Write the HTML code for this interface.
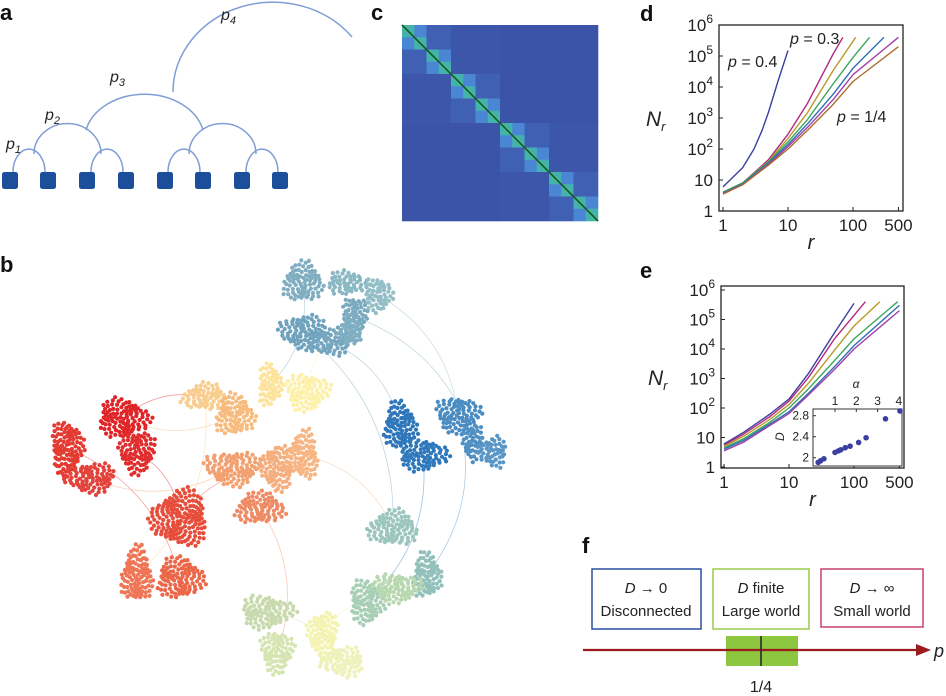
<!DOCTYPE html>
<html><head><meta charset="utf-8">
<style>
html,body{margin:0;padding:0;background:#fff;}
svg{display:block;font-family:"Liberation Sans",Arial,sans-serif;}
.lbl{font-weight:bold;font-size:22px;fill:#111;}
.tk{font-size:17px;fill:#222;}
.it{font-style:italic;}
</style></head>
<body>
<svg id="fig" width="946" height="696" viewBox="0 0 946 696">
<text class="lbl" x="0" y="20">a</text>
<text class="lbl" x="371" y="20">c</text>
<text class="lbl" x="640" y="21">d</text>
<text class="lbl" x="0" y="272">b</text>
<text class="lbl" x="640" y="278">e</text>
<text class="lbl" x="582" y="553">f</text>

<g id="panelA" fill="none" stroke="#7f9ed6" stroke-width="1.5">
  <path d="M13,172 A14,20 0 0 1 45,172"/>
  <path d="M91,172 A14,20 0 0 1 123,172"/>
  <path d="M168,172 A14,20 0 0 1 200,172"/>
  <path d="M246,172 A14,20 0 0 1 278,172"/>
  <path d="M34,154 A33,30 0 0 1 101,154"/>
  <path d="M189,154 A33,30 0 0 1 256,154"/>
  <path d="M86,130 A60,46 0 0 1 203,130"/>
  <path d="M173,92 A100,90 0 0 1 352,37"/>
</g>
<g id="nodesA"></g>
<g font-size="16" fill="#222" class="it">
<text x="6" y="149" class="it">p<tspan font-size="11" dy="4">1</tspan></text>
<text x="45" y="120" class="it">p<tspan font-size="11" dy="4">2</tspan></text>
<text x="110" y="82" class="it">p<tspan font-size="11" dy="4">3</tspan></text>
<text x="221" y="20" class="it">p<tspan font-size="11" dy="4">4</tspan></text>
</g>

<g id="heat"></g>
<g id="net"></g>
<g id="plotD"></g>
<g id="plotE"></g>

<g>
  <rect x="592" y="569" width="109" height="60" fill="none" stroke="#2b4fa0" stroke-width="1.5"/>
  <rect x="713" y="569" width="96" height="60" fill="none" stroke="#9acb4a" stroke-width="1.5"/>
  <rect x="821" y="569" width="102" height="58" fill="none" stroke="#c8406a" stroke-width="1.5"/>
  <g font-size="15" fill="#222" text-anchor="middle">
    <text x="646" y="593"><tspan class="it">D</tspan> → 0</text>
    <text x="646" y="616">Disconnected</text>
    <text x="761" y="593"><tspan class="it">D</tspan> finite</text>
    <text x="761" y="616">Large world</text>
    <text x="872" y="593"><tspan class="it">D</tspan> → ∞</text>
    <text x="872" y="616">Small world</text>
  </g>
  <rect x="726" y="636" width="72" height="30" fill="#8dc63f"/>
  <line x1="583" y1="650" x2="918" y2="650" stroke="#9b1b1e" stroke-width="2.2"/>
  <polygon points="916,644 931,650 916,656" fill="#9b1b1e"/>
  <line x1="761" y1="636" x2="761" y2="666" stroke="#222" stroke-width="1.5"/>
  <text x="934" y="657" font-size="18" class="it" fill="#222">p</text>
  <text x="761" y="692" font-size="16" text-anchor="middle" fill="#222">1/4</text>
</g>
</svg>

<script>
var NS="http://www.w3.org/2000/svg";
function mk(tag,attrs,parent){var e=document.createElementNS(NS,tag);for(var k in attrs)e.setAttribute(k,attrs[k]);parent.appendChild(e);return e;}

var leafX=[2,40,79,118,157,195,234,272];
var gA=document.getElementById('nodesA');
leafX.forEach(function(x,i){
  var r=mk('rect',{x:x,y:172,width:16,height:17,rx:2.5,fill:'#1b4f9c'},gA);
  
  
});

var heatLevels=[0,1,2,3,4];
var heatColors=['#3fbf8a','#4a86d4','#4060b4','#3c56aa','#3b54a8'];
var gH=document.getElementById('heat');
var N=16,hx=402,hy=25,hs=196/16;
for(var i=0;i<N;i++)for(var j=0;j<N;j++){
  var d=i^j,l=0;while(d){l++;d>>=1;}
  var c=mk('rect',{x:hx+j*hs,y:hy+i*hs,width:hs+0.3,height:hs+0.3,fill:heatColors[heatLevels[l]]},gH);
  
  
}
for(var i=0;i<N;i++){
  mk('polygon',{points:(hx+i*hs)+','+(hy+i*hs+3)+' '+(hx+i*hs+hs-3)+','+(hy+i*hs+hs)+' '+(hx+i*hs)+','+(hy+i*hs+hs),fill:'#4aa8c8',opacity:0.6},gH);
  mk('polygon',{points:(hx+i*hs+3)+','+(hy+i*hs)+' '+(hx+i*hs+hs)+','+(hy+i*hs)+' '+(hx+i*hs+hs)+','+(hy+i*hs+hs-3),fill:'#4aa8c8',opacity:0.6},gH);
}
mk('line',{x1:hx,y1:hy,x2:hx+196,y2:hy+196,stroke:'#1e4f3a','stroke-width':1.6},gH);

var clusterX=[303,347,378,355,303,330,350, 400,423,458,473,493, 205,235,270,307, 233,277,303,260, 123,67,137,90,180,137,180, 267,277,323,343, 393,427,367,397];
var clusterY=[282,283,295,317,332,342,330, 425,455,415,442,452, 397,415,385,392, 468,468,455,508, 418,448,452,478,518,575,578, 612,652,635,662, 528,575,602,588];
var clusterR=[20,16,16,17,20,17,14, 20,20,20,15,15, 18,20,17,20, 22,20,20,20, 22,22,20,20,28,22,22, 21,19,20,18, 21,19,20,19];
var clusterC=['#80aec0','#8ab8c3','#93bec6','#7aaabf','#6ea2bd','#76a6bf','#80aec2',
 '#2f77ba','#2f78bb','#4a8cc2','#4f90c3','#5a96c5',
 '#f9cd8e','#f7bb7e','#fde39c','#fdf0a8',
 '#f3a070','#f5ae7e','#f6b582','#ef8b64',
 '#df2527','#e33a31','#e02d2d','#e3423a','#e74d3b','#ee7656','#eb6748',
 '#c8daad','#d6e4b2','#f4f3b2','#edf2ba',
 '#9cc6bd','#92c0bb','#a8cfb6','#b8d8b0'];
var gN=document.getElementById('net');
var edges=[[0,14],[4,31],[2,9],[3,10],[5,7],[20,12],[21,26],[22,24],[24,17],[19,28],[16,23],[8,33],[9,32],[12,25],[18,31],[15,3],[13,20],[27,30],[29,33],[32,34]];
edges.forEach(function(e){
  var a=e[0],b=e[1];
  var mx=(clusterX[a]+clusterX[b])/2+(clusterY[b]-clusterY[a])*0.25, my=(clusterY[a]+clusterY[b])/2-(clusterX[b]-clusterX[a])*0.25;
  var p=mk('path',{d:'M'+clusterX[a]+','+clusterY[a]+' Q'+mx+','+my+' '+clusterX[b]+','+clusterY[b],fill:'none',stroke:clusterC[a],'stroke-width':0.8,opacity:0.45},gN);
  
  
});
var GA=2.39996;
for(var k=0;k<clusterX.length;k++){
  var g=mk('g',{fill:clusterC[k]},gN);
  
  
  var cc=2.2,n=Math.round(Math.pow(clusterR[k]/cc,2));
  var sx=1+0.3*Math.sin(k*1.7),sy=1-0.25*Math.sin(k*1.7);
  for(var m=0;m<n;m++){
    var rr=cc*Math.sqrt(m+0.5),th=m*GA+k;
    var wob=1+0.18*Math.sin(th*3+k);
    mk('circle',{cx:(clusterX[k]+rr*wob*Math.cos(th)*sx).toFixed(1),cy:(clusterY[k]+rr*wob*Math.sin(th)*sy).toFixed(1),r:2.1},g);
  }
}

var yTickExp=[0,1,2,3,4,5,6];
var xTicks=[1,10,100,500];
function logPlot(gid,box,xf,yf,series,colors){
  var g=document.getElementById(gid);
  for(var s=0;s<series.length;s++){
    var pts=series[s].r.map(function(r,i){return xf(r).toFixed(1)+','+yf(series[s].n[i]).toFixed(1);});
    var pl=mk('polyline',{points:pts.join(' '),fill:'none',stroke:colors[s],'stroke-width':1.4,'stroke-linejoin':'round'},g);
    
    
  }
  var fr=mk('rect',{x:box[0],y:box[1],width:box[2]-box[0],height:box[3]-box[1],fill:'none',stroke:'#222','stroke-width':1.3},g);
  
  
  yTickExp.forEach(function(e){
    var y=yf(Math.pow(10,e));
    mk('line',{x1:box[0],x2:box[0]+4,y1:y,y2:y,stroke:'#222'},g);
    var t=mk('text',{x:box[0]-6,y:y+6,'text-anchor':'end','class':'tk'},g);
    
    
    if(e==0)t.textContent='1';else if(e==1)t.textContent='10';
    else{t.textContent='10';var ts=mk('tspan',{dy:-8,'font-size':12},t);ts.textContent=e;}
  });
  xTicks.forEach(function(v){
    var x=xf(v);
    mk('line',{x1:x,x2:x,y1:box[3],y2:box[3]-4,stroke:'#222'},g);
    var t=mk('text',{x:x,y:box[3]+20,'text-anchor':'middle','class':'tk'},g);
    
    
    t.textContent=v;
  });
  var yl=mk('text',{x:box[0]-73,y:(box[1]+box[3])/2+8,'font-size':21,'class':'it',fill:'#222'},g);
  
  
  yl.textContent='N';var sb=mk('tspan',{dy:5,'font-size':13},yl);sb.textContent='r';
  var xl=mk('text',{x:(box[0]+box[2])/2,y:box[3]+38,'font-size':20,'class':'it','text-anchor':'middle',fill:'#222'},g);
  
  
  xl.textContent='r';
  return g;
}

var dR04=[1,2,3,4,5,7,10], dN04=[6,25,100,400,1500,15000,150000];
var dR1=[1,2,5,10,20,50,70], dN1=[4,8,45,300,3000,120000,400000];
var dR2=[1,2,5,10,20,50,110], dN2=[4,8,40,220,1500,35000,400000];
var dR3=[1,2,5,10,20,50,100,180], dN3=[4,8,38,170,900,13000,90000,400000];
var dR4=[1,2,5,10,20,50,100,300], dN4=[3.8,7.5,35,140,650,6000,40000,400000];
var dR5=[1,2,5,10,20,50,100,500], dN5=[3.6,7,32,120,500,4000,25000,400000];
var dR6=[1,2,5,10,20,50,100,500], dN6=[3.5,7,30,100,400,2800,15000,200000];
var dColors=['#3a3fa0','#b4287e','#b99a2a','#3aa65a','#2e6fb8','#a33fa8','#a8702e'];
var gD=logPlot('plotD',[719,25,903,211],
  function(r){return 723+65*Math.log10(r);},function(n){return 211-31*Math.log10(n);},
  [{r:dR04,n:dN04},{r:dR1,n:dN1},{r:dR2,n:dN2},{r:dR3,n:dN3},{r:dR4,n:dN4},{r:dR5,n:dN5},{r:dR6,n:dN6}],dColors);
[['p = 0.4',728,67],['p = 0.3',790,44],['p = 1/4',837,122]].forEach(function(a){
  var t=mk('text',{x:a[1],y:a[2],'font-size':16,fill:'#222'},gD);
  
  
  var sp=mk('tspan',{'class':'it'},t);sp.textContent='p';
  t.appendChild(document.createTextNode(a[0].slice(1)));
});

var eR1=[1,2,5,10,20,50,100], eN1=[6,15,60,200,1500,35000,350000];
var eR2=[1,2,5,10,20,50,150], eN2=[5.5,13,50,170,1100,22000,400000];
var eR3=[1,2,5,10,20,50,100,250], eN3=[5,11,40,130,700,9000,60000,400000];
var eR4=[1,2,5,10,20,50,100,470], eN4=[4.5,9,32,100,450,4000,22000,400000];
var eR5=[1,2,5,10,20,50,100,500], eN5=[4,8,28,75,320,2500,13000,300000];
var eR6=[1,2,5,10,20,50,100,500], eN6=[3.5,7,25,65,280,2000,10000,200000];
var eColors=['#3a3fa0','#b4287e','#b99a2a','#3aa65a','#2e6fb8','#a33fa8'];
var gE=logPlot('plotE',[721,286,904,468],
  function(r){return 724+65*Math.log10(r);},function(n){return 467-29.5*Math.log10(n);},
  [{r:eR1,n:eN1},{r:eR2,n:eN2},{r:eR3,n:eN3},{r:eR4,n:eN4},{r:eR5,n:eN5},{r:eR6,n:eN6}],eColors);

var insetAlpha=[0.21,0.32,0.48,1.0,1.16,1.27,1.48,1.71,2.11,2.46,3.37,4.05];
var insetD=[1.91,1.94,1.98,2.10,2.13,2.15,2.19,2.22,2.29,2.38,2.74,2.89];
var alphaTicks=[1,2,3,4], dTicks=[2,2.4,2.8];
function ax(a){return 813.7+21.3*a;}
function ay(d){return 436.7-52.5*(d-2.4);}
var ins=mk('g',{},gE);


mk('rect',{x:813,y:409,width:89,height:57,fill:'#fff',stroke:'#333','stroke-width':1},ins);
alphaTicks.forEach(function(a){
  mk('line',{x1:ax(a),x2:ax(a),y1:409,y2:412,stroke:'#333'},ins);
  var t=mk('text',{x:ax(a),y:405,'font-size':12,'text-anchor':'middle',fill:'#222'},ins);
  
  
  t.textContent=a;
});
dTicks.forEach(function(d){
  mk('line',{x1:813,x2:816,y1:ay(d),y2:ay(d),stroke:'#333'},ins);
  var t=mk('text',{x:809,y:ay(d)+4,'font-size':12,'text-anchor':'end',fill:'#222'},ins);
  
  
  t.textContent=d;
});
var at=mk('text',{x:856,y:388,'font-size':12,'text-anchor':'middle','class':'it',fill:'#222'},ins);at.textContent='α';
var dt=mk('text',{x:0,y:0,'font-size':12,'class':'it',fill:'#222',transform:'translate(784,441) rotate(-90)'},ins);dt.textContent='D';
insetAlpha.forEach(function(a,i){
  var c=mk('circle',{cx:ax(a),cy:ay(insetD[i]),r:2.8,fill:'#3a3fa0'},ins);
  
  
});
</script>
</body></html>
